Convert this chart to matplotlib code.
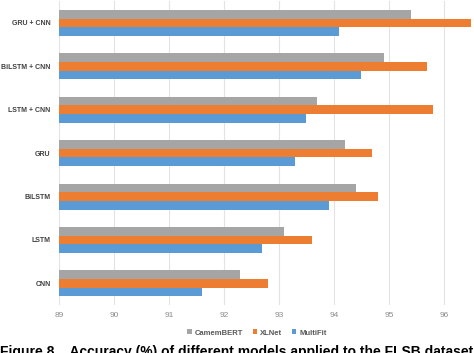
import numpy as np
import matplotlib
matplotlib.use('Agg')
import matplotlib.pyplot as plt

## Data (accuracy %)
models = ['CNN', 'LSTM', 'BiLSTM', 'GRU', 'LSTM + CNN', 'BiLSTM + CNN', 'GRU + CNN']
camembert = [92.3, 93.1, 94.4, 94.2, 93.7, 94.9, 95.4]
xlnet = [92.8, 93.6, 94.8, 94.7, 95.8, 95.7, 96.5]
multifit = [91.6, 92.7, 93.9, 93.3, 93.5, 94.5, 94.1]
xticks = [89, 90, 91, 92, 93, 94, 95, 96]

plt.rcParams['font.family'] = ['Liberation Sans', 'DejaVu Sans']

f = plt.figure(figsize=(4.74, 3.53), dpi=100)
ax = f.add_axes([59 / 474, 48 / 353, 1 - 59 / 474, 303.7 / 353])

y = np.arange(len(models))
h = 0.2
ax.barh(y + h, camembert, height=h, color='#A5A5A5', label='CamemBERT')
ax.barh(y, xlnet, height=h, color='#ED7D31', label='XLNet')
ax.barh(y - h, multifit, height=h, color='#5B9BD5', label='MultiFit')

ax.set_xlim(89, 89 + (474 - 59) / 55)
ax.set_ylim(-0.5, 6.5)
ax.set_xticks(xticks)
ax.set_xticklabels([str(t) for t in xticks])
ax.set_yticks(y)
ax.set_yticklabels(models, fontweight='bold', fontsize=5, color='#404040')
ax.tick_params(axis='x', labelsize=6, labelcolor='#8c8c8c', length=0, pad=5)
ax.tick_params(axis='y', length=0, pad=6)
ax.grid(axis='x', color='#E3E3E3', lw=0.8)
ax.set_axisbelow(True)
for s in ax.spines.values():
    s.set_visible(False)

leg = f.legend(loc='center', bbox_to_anchor=(257 / 474, 1 - 333 / 353), ncol=3,
               frameon=False, fontsize=5.5, handlelength=0.6, handleheight=0.6,
               columnspacing=1.2, handletextpad=0.4)
for t in leg.get_texts():
    t.set_color('#595959')
    t.set_fontweight('bold')

# caption, cut off at the bottom edge like the source
f.text(0.0, 1 - 345 / 353, 'Figure 8.   Accuracy (%) of different models applied to the FLSB dataset',
       fontsize=10, fontweight='bold', color='black', va='top', ha='left')

f.savefig('out.png', dpi=100)
